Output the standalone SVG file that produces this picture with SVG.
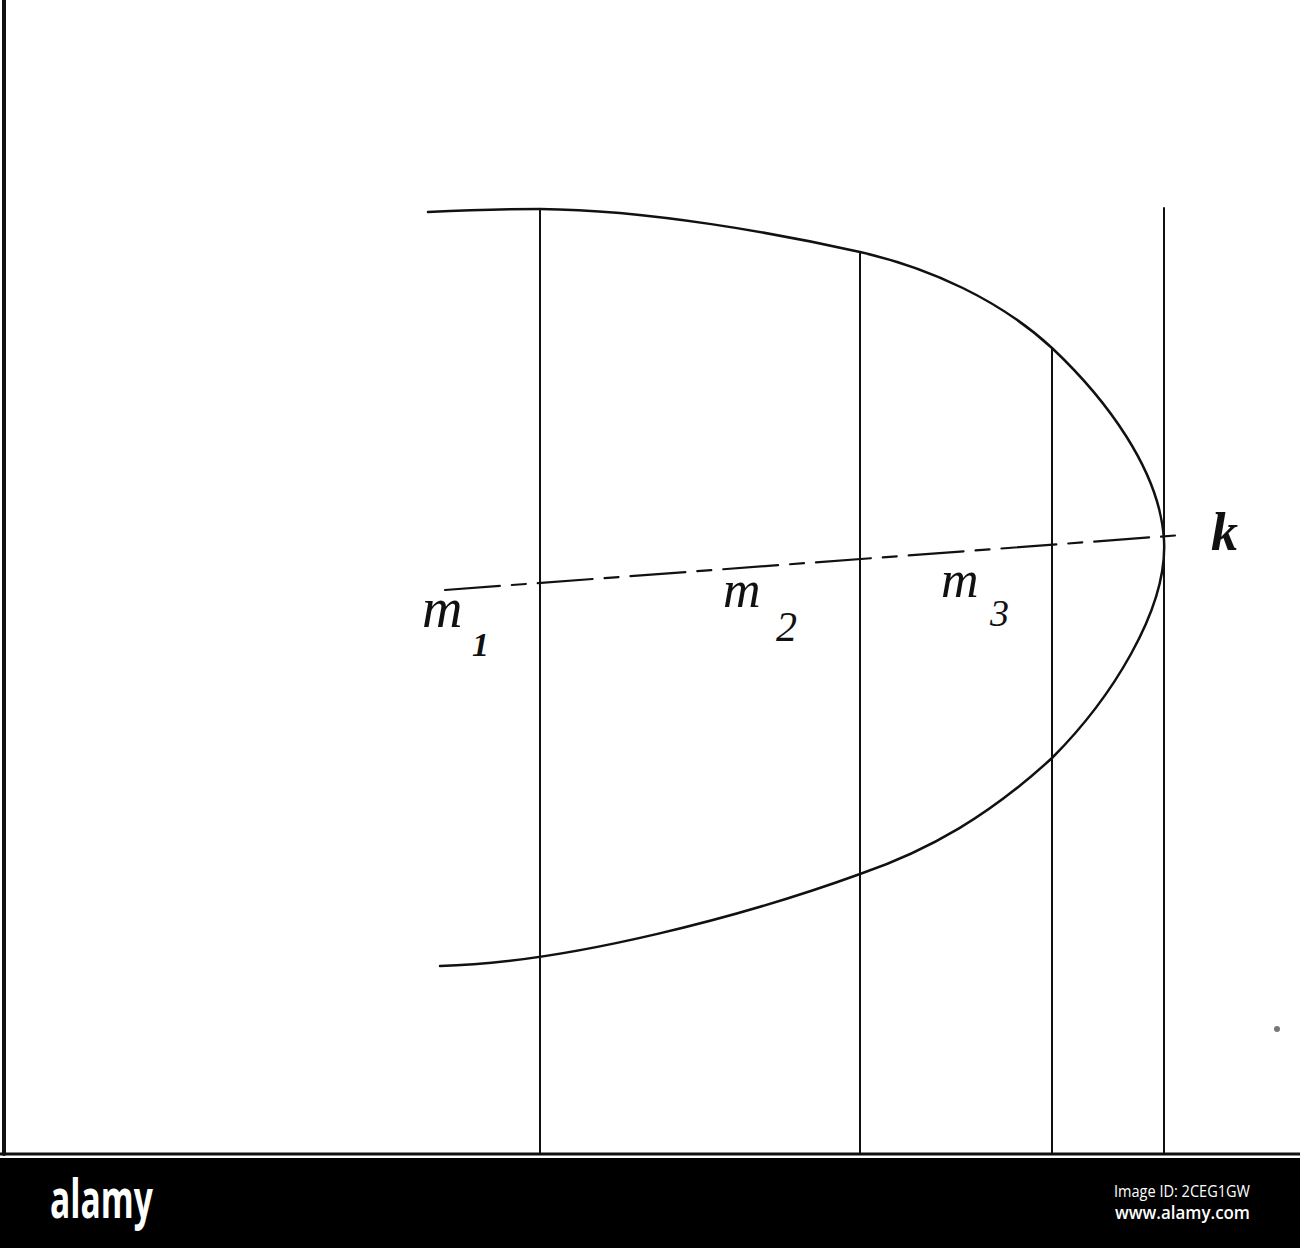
<svg xmlns="http://www.w3.org/2000/svg" width="1300" height="1248" viewBox="0 0 1300 1248">
<style>
.ln{stroke:#111;stroke-width:2.5;fill:none;stroke-linecap:round}
.lbl{font-family:"Liberation Serif",serif;font-style:italic;fill:#111}
.wm{font-family:"Open Sans","Liberation Sans",sans-serif;fill:#fff}
</style>
<rect width="1300" height="1248" fill="#fff"/>
<g id="frame">
<line class="ln" x1="4" y1="0" x2="4" y2="1154" style="stroke-width:4"/>
<line class="ln" x1="0" y1="1154" x2="1300" y2="1154" style="stroke-width:3"/>
</g>
<g id="curve">
<path class="ln" d="M428,212 C470,210 510,209 540,209 C650,210 780,234 860,252 C930,268 1000,300 1052,348 C1105,398 1160,470 1164,540 C1168,610 1110,700 1052,758 C990,815 930,850 860,874 C750,914 570,963 440,966"/>
</g>
<g id="connectors">
<line class="ln" x1="540" y1="209" x2="540" y2="1154" style="stroke-width:2"/>
<line class="ln" x1="860" y1="252" x2="860" y2="1154" style="stroke-width:2"/>
<line class="ln" x1="1052" y1="348" x2="1052" y2="1154" style="stroke-width:2"/>
<line class="ln" x1="1164" y1="208" x2="1164" y2="1154" style="stroke-width:2"/>
<line class="ln" x1="445" y1="590" x2="1182" y2="535" style="stroke-width:2.2" stroke-dasharray="55 12 14 12"/>
</g>
<g id="labels">
<text class="lbl" x="422" y="627" font-size="56">m</text>
<text class="lbl" x="472" y="656" font-size="34" font-weight="bold">1</text>
<text class="lbl" x="723" y="607" font-size="52">m</text>
<text class="lbl" x="776" y="641" font-size="42">2</text>
<text class="lbl" x="941" y="597" font-size="52">m</text>
<text class="lbl" x="990" y="626" font-size="38">3</text>
<text class="lbl" x="1211" y="550" font-size="54" font-weight="bold">k</text>
</g>
<circle cx="1277" cy="1029" r="3" fill="#777"/>
<g id="watermark">
<rect x="0" y="1158" width="1300" height="90" fill="#000"/>
<text class="wm" x="50" y="1218" font-size="54" font-weight="bold" textLength="103" lengthAdjust="spacingAndGlyphs">alamy</text>
<text class="wm" x="1114" y="1197" font-size="17" textLength="136" lengthAdjust="spacingAndGlyphs">Image ID: 2CEG1GW</text>
<text class="wm" x="1115" y="1219" font-size="18" font-weight="600" textLength="135" lengthAdjust="spacingAndGlyphs">www.alamy.com</text>
</g>
</svg>
